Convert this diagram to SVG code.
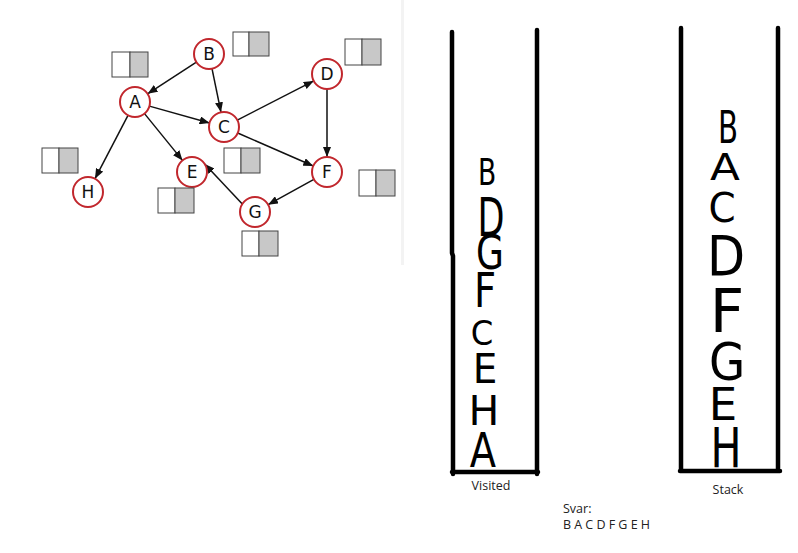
<svg xmlns="http://www.w3.org/2000/svg" width="798" height="553" viewBox="0 0 798 553">
<style>
.node circle{fill:#fff;stroke:#c1272d;stroke-width:2}
.node text{font-family:"DejaVu Sans",sans-serif;font-size:17px;text-anchor:middle;fill:#111}
.bw{fill:#fff;stroke:#444;stroke-width:1}
.bg{fill:#c8c8c8;stroke:#444;stroke-width:1}
.edge{stroke:#111;stroke-width:1.5;fill:none;marker-end:url(#ah)}
.col{stroke:#000;stroke-width:4.5;fill:none;stroke-linecap:round;stroke-linejoin:round}
.hw{font-family:"DejaVu Sans",sans-serif;text-anchor:middle;fill:#000}
.lbl{font-family:"Open Sans","DejaVu Sans",sans-serif;font-size:12.5px;fill:#222}
</style>
<defs>
<marker id="ah" markerUnits="userSpaceOnUse" markerWidth="10" markerHeight="8" refX="10" refY="4" orient="auto">
<path d="M0,0 L10,4 L0,8 z" fill="#111"/>
</marker>
</defs>
<rect width="798" height="553" fill="#fff"/>
<rect x="401" y="0" width="3" height="265" fill="#f3f3f3"/>
<g id="connectors">
<line class="edge" x1="196.4" y1="62.2" x2="147.6" y2="93.8"/>
<line class="edge" x1="212" y1="68.7" x2="221" y2="112.3"/>
<line class="edge" x1="149.4" y1="106.1" x2="209.6" y2="123"/>
<line class="edge" x1="144.5" y1="113.6" x2="182.5" y2="160.4"/>
<line class="edge" x1="128" y1="115.3" x2="95" y2="178.7"/>
<line class="edge" x1="237.3" y1="120.1" x2="313.7" y2="80.9"/>
<line class="edge" x1="237.7" y1="133" x2="313.3" y2="166"/>
<line class="edge" x1="327" y1="89" x2="327" y2="157"/>
<line class="edge" x1="313.9" y1="179.3" x2="268.1" y2="204.7"/>
<line class="edge" x1="242.3" y1="204" x2="204.7" y2="164"/>
</g>
<g id="node-A" class="node"><circle cx="135" cy="102" r="15"/><text x="135" y="108">A</text><rect class="bw" x="112" y="52" width="18" height="25"/><rect class="bg" x="130" y="52" width="18" height="25"/></g>
<g id="node-B" class="node"><circle cx="209" cy="54" r="15"/><text x="209" y="60">B</text><rect class="bw" x="233" y="32" width="16" height="24"/><rect class="bg" x="249" y="32" width="20" height="24"/></g>
<g id="node-C" class="node"><circle cx="224" cy="127" r="15"/><text x="224" y="133">C</text><rect class="bw" x="224" y="148" width="17" height="25"/><rect class="bg" x="241" y="148" width="19" height="25"/></g>
<g id="node-D" class="node"><circle cx="327" cy="74" r="15"/><text x="327" y="80">D</text><rect class="bw" x="345" y="39" width="17" height="26"/><rect class="bg" x="362" y="39" width="19" height="26"/></g>
<g id="node-E" class="node"><circle cx="192" cy="172" r="15"/><text x="192" y="178">E</text><rect class="bw" x="158" y="188" width="17" height="25"/><rect class="bg" x="175" y="188" width="19" height="25"/></g>
<g id="node-F" class="node"><circle cx="327" cy="172" r="15"/><text x="327" y="178">F</text><rect class="bw" x="359" y="170" width="17" height="26"/><rect class="bg" x="376" y="170" width="19" height="26"/></g>
<g id="node-G" class="node"><circle cx="255" cy="212" r="15"/><text x="255" y="218">G</text><rect class="bw" x="242" y="231" width="17" height="25"/><rect class="bg" x="259" y="231" width="19" height="25"/></g>
<g id="node-H" class="node"><circle cx="88" cy="192" r="15"/><text x="88" y="198">H</text><rect class="bw" x="42" y="148" width="17" height="25"/><rect class="bg" x="59" y="148" width="19" height="25"/></g>
<g id="visited">
<path class="col" d="M452,32 L452,253 L453,256 L453,474 M537,30 L537,474 M452,472 L538,472"/>
<text class="hw" font-size="38" transform="translate(487,185) scale(0.7,1)">B</text>
<text class="hw" font-size="54" transform="translate(491,236) scale(0.65,1)">D</text>
<text class="hw" font-size="48" transform="translate(490,269) scale(0.75,1)">G</text>
<text class="hw" font-size="48" transform="translate(485,307) scale(0.8,1)">F</text>
<text class="hw" font-size="34" transform="translate(482,345) scale(0.95,1)">C</text>
<text class="hw" font-size="41" transform="translate(485,383) scale(0.95,1)">E</text>
<text class="hw" font-size="41" transform="translate(484,425) scale(1,1)">H</text>
<text class="hw" font-size="48" transform="translate(483,467) scale(0.8,1)">A</text>
<text class="lbl" x="491" y="490" text-anchor="middle">Visited</text>
</g>
<g id="stack">
<path class="col" d="M681,28 L681,471 M778,28 L778,471 M680,471 L780,471"/>
<text class="hw" font-size="45" transform="translate(728,143) scale(0.65,1)">B</text>
<text class="hw" font-size="38" transform="translate(725,180) scale(1.15,1)">A</text>
<text class="hw" font-size="41" transform="translate(722,222) scale(0.95,1)">C</text>
<text class="hw" font-size="55" transform="translate(726,275) scale(0.9,1)">D</text>
<text class="hw" font-size="60" transform="translate(727,332) scale(1,1)">F</text>
<text class="hw" font-size="52" transform="translate(727,380) scale(0.9,1)">G</text>
<text class="hw" font-size="45" transform="translate(723,420) scale(1,1)">E</text>
<text class="hw" font-size="55" transform="translate(726,467) scale(0.75,1)">H</text>
<text class="lbl" x="728" y="494" text-anchor="middle">Stack</text>
</g>
<g id="answer">
<text class="lbl" x="563" y="513" font-size="12">Svar:</text>
<text class="lbl" x="563" y="529" font-size="12" textLength="87" lengthAdjust="spacing">B A C D F G E H</text>
</g>
</svg>
